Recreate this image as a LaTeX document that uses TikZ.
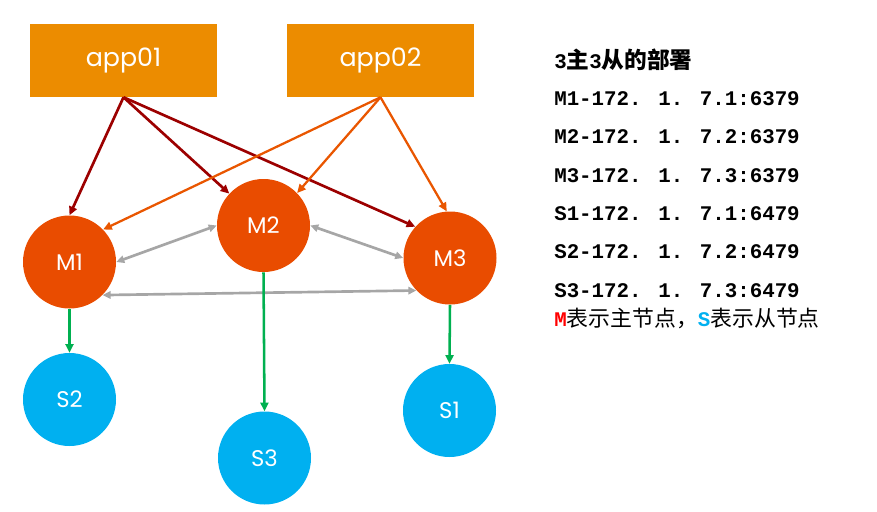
\documentclass[tikz,border=0pt]{standalone}
\usepackage{fontspec}
\setmainfont{Poppins}
\newfontfamily\monof{Liberation Mono}
\newfontfamily\cjk{Noto Sans CJK SC}
\usetikzlibrary{arrows.meta}
\definecolor{boxor}{HTML}{EC8C00}
\definecolor{mred}{HTML}{E94C00}
\definecolor{sblue}{HTML}{00B0F0}
\definecolor{darkr}{HTML}{9C0000}
\definecolor{lor}{HTML}{E95600}
\definecolor{lgray}{HTML}{A6A6A6}
\definecolor{lgreen}{HTML}{00B050}
\tikzset{
  appbox/.style={fill=boxor, minimum width=140.25pt, minimum height=54.75pt, inner sep=0pt, text=white, font=\fontsize{19}{21}\selectfont},
  mnode/.style={circle, fill=mred, minimum size=69.75pt, inner sep=0pt, text=white, font=\fontsize{17}{19}\selectfont},
  snode/.style={circle, fill=sblue, minimum size=69.75pt, inner sep=0pt, text=white, font=\fontsize{17}{19}\selectfont},
  tip/.style={-{Triangle[length=6.5pt,width=6pt]}},
  dtip/.style={{Triangle[length=6pt,width=5.5pt]}-{Triangle[length=6pt,width=5.5pt]}},
  a1/.style={tip, draw=darkr, line width=2pt},
  a2/.style={tip, draw=lor, line width=1.7pt},
  gr/.style={dtip, draw=lgray, line width=2pt},
  gn/.style={tip, draw=lgreen, line width=1.9pt},
  info/.style={anchor=base west, inner sep=0pt, font=\monof\bfseries\fontsize{15.6}{18}\selectfont},
}
\begin{document}
\begin{tikzpicture}[x=0.75pt, y=-0.75pt]
\useasboundingbox (0,0) rectangle (877,511);
\node[appbox] (app01) at (123.5,60.5) {app01};
\node[appbox] (app02) at (380.5,60.5) {app02};
\node[mnode] (M1) at (69.5,262) {M1};
\node[mnode] (M2) at (263.5,225.5) {M2};
\node[mnode] (M3) at (450,258) {M3};
\node[snode] (S2) at (69.5,399.5) {S2};
\node[snode] (S3) at (264.5,458) {S3};
\node[snode] (S1) at (449.5,410.5) {S1};
% app01 arrows
\draw[a1] (app01.south) -- (M1.north);
\draw[a1] (app01.south) -- (M2.137);
\draw[a1] (app01.south) -- (M3.138);
% app02 arrows
\draw[a2] (app02.south) -- (M1.44);
\draw[a2] (app02.south) -- (M2.44);
\draw[a2] (app02.south) -- (M3.94);
% gray
\draw[gr] (M1.east) -- (M2.west);
\draw[gr] (M2.east) -- (M3.west);
\draw[gr] (M1.-45) -- (M3.-136);
% green
\draw[gn] (M1.south) -- (S2.north);
\draw[gn] (M2.south) -- (S3.north);
\draw[gn] (M3.south) -- (S1.north);
% text
\node[info] (t0) at (554,68) {3{\cjk\bfseries\fontsize{17}{19}\selectfont 主}3{\cjk\bfseries\fontsize{17}{19}\selectfont 从的部署}};
\node[info] (t1) at (554,105) {M1-172. 1. 7.1:6379};
\node[info] (t2) at (554,143) {M2-172. 1. 7.2:6379};
\node[info] (t3) at (554,182) {M3-172. 1. 7.3:6379};
\node[info] (t4) at (554,220) {S1-172. 1. 7.1:6479};
\node[info] (t5) at (554,258) {S2-172. 1. 7.2:6479};
\node[info] (t6) at (554,297) {S3-172. 1. 7.3:6479};
\node[info] (t7) at (554,326) {\textcolor{red}{M}{\cjk\mdseries\fontsize{16.4}{18}\selectfont 表示主节点，}\textcolor{sblue}{S}{\cjk\mdseries\fontsize{16.4}{18}\selectfont 表示从节点}};
\end{tikzpicture}
\end{document}
